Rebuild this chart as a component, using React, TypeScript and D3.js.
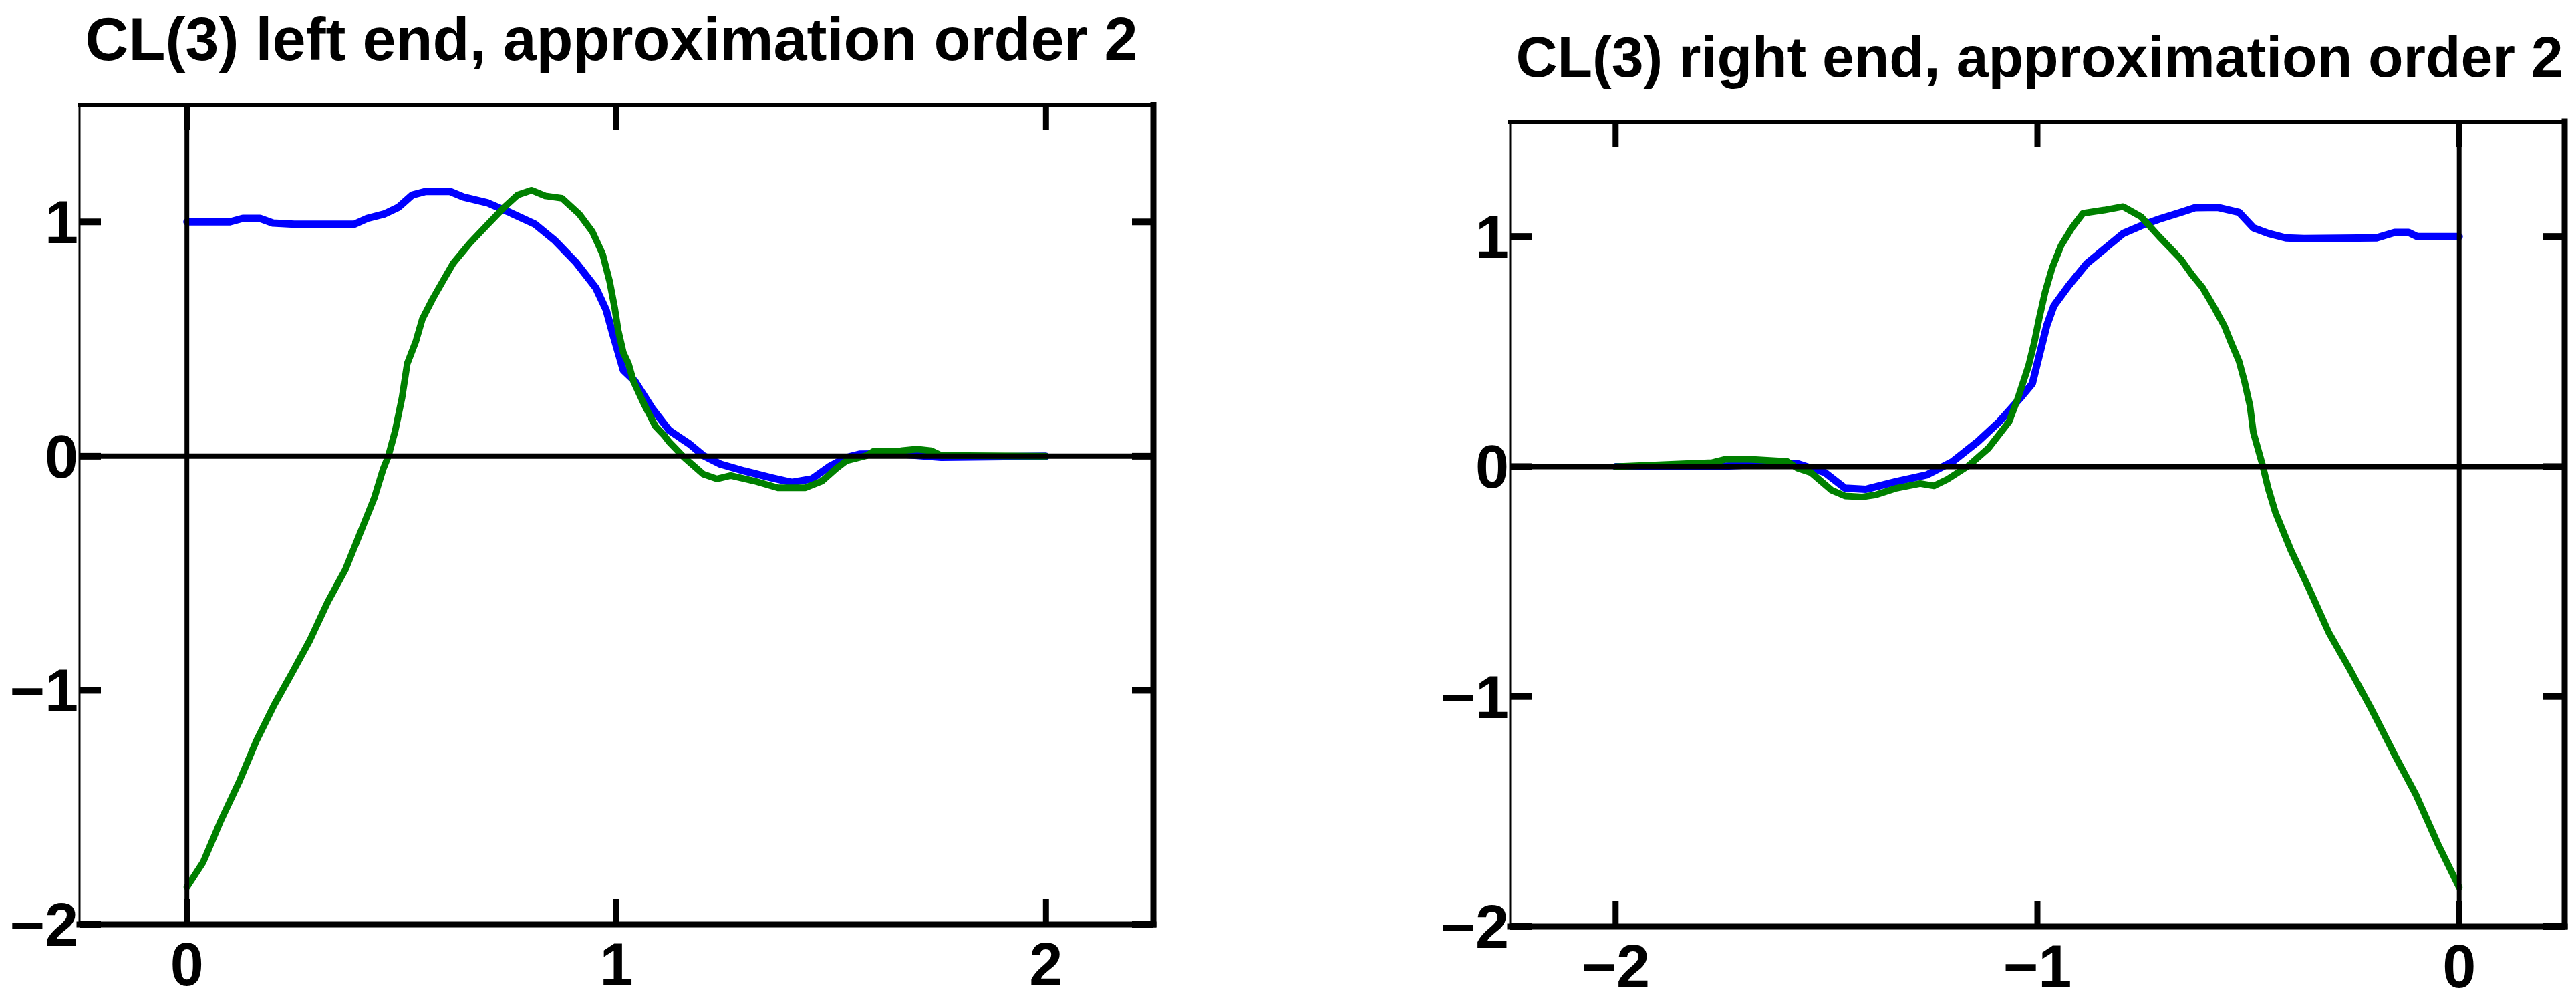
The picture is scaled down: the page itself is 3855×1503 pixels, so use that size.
import React from "react";
import * as d3 from "d3";

type Pt = [number, number];

// tick values
const leftXTicks = [0, 1, 2];
const rightXTicks = [-2, -1, 0];
const yTicks = [-2, -1, 0, 1];

const leftTitle = "CL(3) left end, approximation order 2";
const rightTitle = "CL(3) right end, approximation order 2";

// left end, blue curve
const leftBlue: Pt[] = [
  [0, 1.0], [0.1, 1.0], [0.13, 1.015], [0.17, 1.015], [0.2, 0.995], [0.25, 0.99],
  [0.39, 0.99], [0.42, 1.015], [0.46, 1.034], [0.493, 1.063], [0.525, 1.115],
  [0.556, 1.13], [0.612, 1.13], [0.644, 1.106], [0.699, 1.082], [0.747, 1.044],
  [0.81, 0.991], [0.857, 0.92], [0.905, 0.829], [0.952, 0.719], [0.976, 0.625],
  [0.992, 0.519], [1.016, 0.367], [1.043, 0.32], [1.083, 0.205], [1.123, 0.11],
  [1.17, 0.052], [1.202, 0.003], [1.242, -0.034], [1.297, -0.063], [1.36, -0.092],
  [1.408, -0.112], [1.455, -0.097], [1.495, -0.045], [1.535, -0.006], [1.566, 0.009],
  [1.65, 0.01], [1.756, -0.005], [2.0, 0.0]
];

// left end, green curve
const leftGreen: Pt[] = [
  [0, -1.84], [0.038, -1.733], [0.079, -1.556], [0.121, -1.393], [0.162, -1.215],
  [0.203, -1.063], [0.245, -0.925], [0.286, -0.787], [0.328, -0.622], [0.369, -0.484],
  [0.4, -0.344], [0.436, -0.18], [0.457, -0.054], [0.469, 0.0], [0.485, 0.109],
  [0.501, 0.251], [0.513, 0.395], [0.533, 0.49], [0.548, 0.585], [0.572, 0.671],
  [0.596, 0.748], [0.62, 0.824], [0.659, 0.91], [0.699, 0.987], [0.739, 1.063],
  [0.77, 1.115], [0.802, 1.135], [0.834, 1.111], [0.873, 1.101], [0.913, 1.034],
  [0.944, 0.958], [0.968, 0.862], [0.984, 0.748], [0.996, 0.633], [1.004, 0.538],
  [1.016, 0.442], [1.028, 0.395], [1.04, 0.318], [1.064, 0.223], [1.091, 0.127],
  [1.111, 0.089], [1.123, 0.06], [1.158, -0.006], [1.202, -0.077], [1.234, -0.097],
  [1.266, -0.083], [1.321, -0.106], [1.376, -0.135], [1.44, -0.135], [1.479, -0.106],
  [1.511, -0.054], [1.535, -0.02], [1.583, 0.003], [1.598, 0.02], [1.662, 0.023],
  [1.701, 0.03], [1.733, 0.023], [1.756, 0.003], [2.0, 0.0]
];

// right end, blue curve
const rightBlue: Pt[] = [
  [-2, 0], [-1.764, 0.0], [-1.65, 0.01], [-1.569, 0.013], [-1.504, -0.026],
  [-1.456, -0.094], [-1.407, -0.099], [-1.334, -0.065], [-1.262, -0.036],
  [-1.201, 0.022], [-1.141, 0.109], [-1.09, 0.196], [-1.038, 0.303], [-1.012, 0.361],
  [-0.995, 0.487], [-0.978, 0.612], [-0.961, 0.699], [-0.926, 0.786], [-0.883, 0.883],
  [-0.832, 0.96], [-0.797, 1.013], [-0.754, 1.047], [-0.711, 1.076], [-0.66, 1.105],
  [-0.626, 1.125], [-0.574, 1.127], [-0.522, 1.105], [-0.488, 1.038], [-0.453, 1.014],
  [-0.411, 0.994], [-0.368, 0.991], [-0.196, 0.994], [-0.153, 1.018], [-0.12, 1.018],
  [-0.1, 1.0], [0, 1.0]
];

// right end, green curve
const rightGreen: Pt[] = [
  [-2, 0], [-1.772, 0.017], [-1.739, 0.032], [-1.682, 0.032], [-1.593, 0.022],
  [-1.569, -0.007], [-1.537, -0.026], [-1.488, -0.103], [-1.456, -0.128],
  [-1.415, -0.132], [-1.383, -0.123], [-1.334, -0.094], [-1.278, -0.074],
  [-1.245, -0.084], [-1.213, -0.055], [-1.164, 0.003], [-1.116, 0.08], [-1.067, 0.196],
  [-1.047, 0.293], [-1.021, 0.438], [-1.008, 0.535], [-0.995, 0.651], [-0.982, 0.757],
  [-0.965, 0.864], [-0.944, 0.96], [-0.918, 1.038], [-0.892, 1.101], [-0.841, 1.115],
  [-0.797, 1.13], [-0.754, 1.086], [-0.711, 0.999], [-0.66, 0.902], [-0.634, 0.835],
  [-0.608, 0.777], [-0.583, 0.699], [-0.557, 0.612], [-0.54, 0.535], [-0.522, 0.458],
  [-0.509, 0.37], [-0.496, 0.264], [-0.488, 0.148], [-0.466, 0.005], [-0.453, -0.094],
  [-0.436, -0.198], [-0.399, -0.364], [-0.356, -0.531], [-0.309, -0.722],
  [-0.261, -0.876], [-0.208, -1.055], [-0.155, -1.246], [-0.103, -1.425],
  [-0.05, -1.643], [0, -1.83]
];

const W = 3855;
const H = 1503;
const FONT = "'Liberation Sans', Arial, Helvetica, sans-serif";

interface Box { left: number; right: number; top: number; bottom: number; }

interface PanelProps {
  title: string;
  titleX: number;
  titleSize: number;
  box: Box;
  xDomain: [number, number];
  xTicks: number[];
  blue: Pt[];
  green: Pt[];
}

const fmt = (v: number) => (v < 0 ? "\u2212" + Math.abs(v) : String(v));

function Panel({ title, titleX, titleSize, box, xDomain, xTicks, blue, green }: PanelProps) {
  const x = d3.scaleLinear().domain(xDomain).range([box.left, box.right]);
  const y = d3.scaleLinear().domain([-2, 1.5]).range([box.bottom, box.top]);
  const line = d3.line<Pt>().x((d) => x(d[0])).y((d) => y(d[1]));

  return (
    <g>
      <text x={titleX} y={box.top - 67} textAnchor="middle" fontFamily={FONT}
        fontWeight="bold" fontSize={titleSize} fill="#000">{title}</text>

      {/* curves */}
      <path d={line(blue) || ""} fill="none" stroke="#0000ff" strokeWidth={11}
        strokeLinejoin="round" strokeLinecap="round" />
      <path d={line(green) || ""} fill="none" stroke="#008000" strokeWidth={10}
        strokeLinejoin="round" strokeLinecap="round" />

      {/* zero lines */}
      <line x1={box.left} x2={box.right} y1={y(0)} y2={y(0)} stroke="#000" strokeWidth={8} />
      <line x1={x(0)} x2={x(0)} y1={box.top} y2={box.bottom} stroke="#000" strokeWidth={7} />

      {/* box */}
      <line x1={box.left} x2={box.right} y1={box.top} y2={box.top} stroke="#000" strokeWidth={6} strokeLinecap="square" />
      <line x1={box.left} x2={box.right} y1={box.bottom} y2={box.bottom} stroke="#000" strokeWidth={9} strokeLinecap="square" />
      <line x1={box.left} x2={box.left} y1={box.top} y2={box.bottom} stroke="#000" strokeWidth={3} />
      <line x1={box.right} x2={box.right} y1={box.top} y2={box.bottom} stroke="#000" strokeWidth={9} strokeLinecap="square" />

      {/* x ticks */}
      {xTicks.map((t) => (
        <g key={"x" + t}>
          <line x1={x(t)} x2={x(t)} y1={box.bottom} y2={box.bottom - 38} stroke="#000" strokeWidth={9} />
          <line x1={x(t)} x2={x(t)} y1={box.top} y2={box.top + 38} stroke="#000" strokeWidth={9} />
          <text x={x(t)} y={box.bottom + 91} textAnchor="middle" fontFamily={FONT}
            fontWeight="bold" fontSize={90} fill="#000">{fmt(t)}</text>
        </g>
      ))}

      {/* y ticks */}
      {yTicks.map((t) => (
        <g key={"y" + t}>
          <line x1={box.left} x2={box.left + 32} y1={y(t)} y2={y(t)} stroke="#000" strokeWidth={10} />
          <line x1={box.right} x2={box.right - 32} y1={y(t)} y2={y(t)} stroke="#000" strokeWidth={10} />
          <text x={box.left - 2} y={y(t) + 32} textAnchor="end" fontFamily={FONT}
            fontWeight="bold" fontSize={90} fill="#000">{fmt(t)}</text>
        </g>
      ))}
    </g>
  );
}

export default function App() {
  return (
    <>
      <style>{`body { margin: 0; background: #fff; }`}</style>
      <svg width={W} height={H} viewBox={`0 0 ${W} ${H}`} style={{ display: "block", background: "#fff" }}>
        <Panel
          title={leftTitle}
          titleX={915}
          titleSize={90}
          box={{ left: 119, right: 1726, top: 157, bottom: 1384 }}
          xDomain={[-0.25, 2.25]}
          xTicks={leftXTicks}
          blue={leftBlue}
          green={leftGreen}
        />
        <Panel
          title={rightTitle}
          titleX={3052}
          titleSize={86}
          box={{ left: 2260, right: 3838, top: 182, bottom: 1387 }}
          xDomain={[-2.25, 0.25]}
          xTicks={rightXTicks}
          blue={rightBlue}
          green={rightGreen}
        />
      </svg>
    </>
  );
}
